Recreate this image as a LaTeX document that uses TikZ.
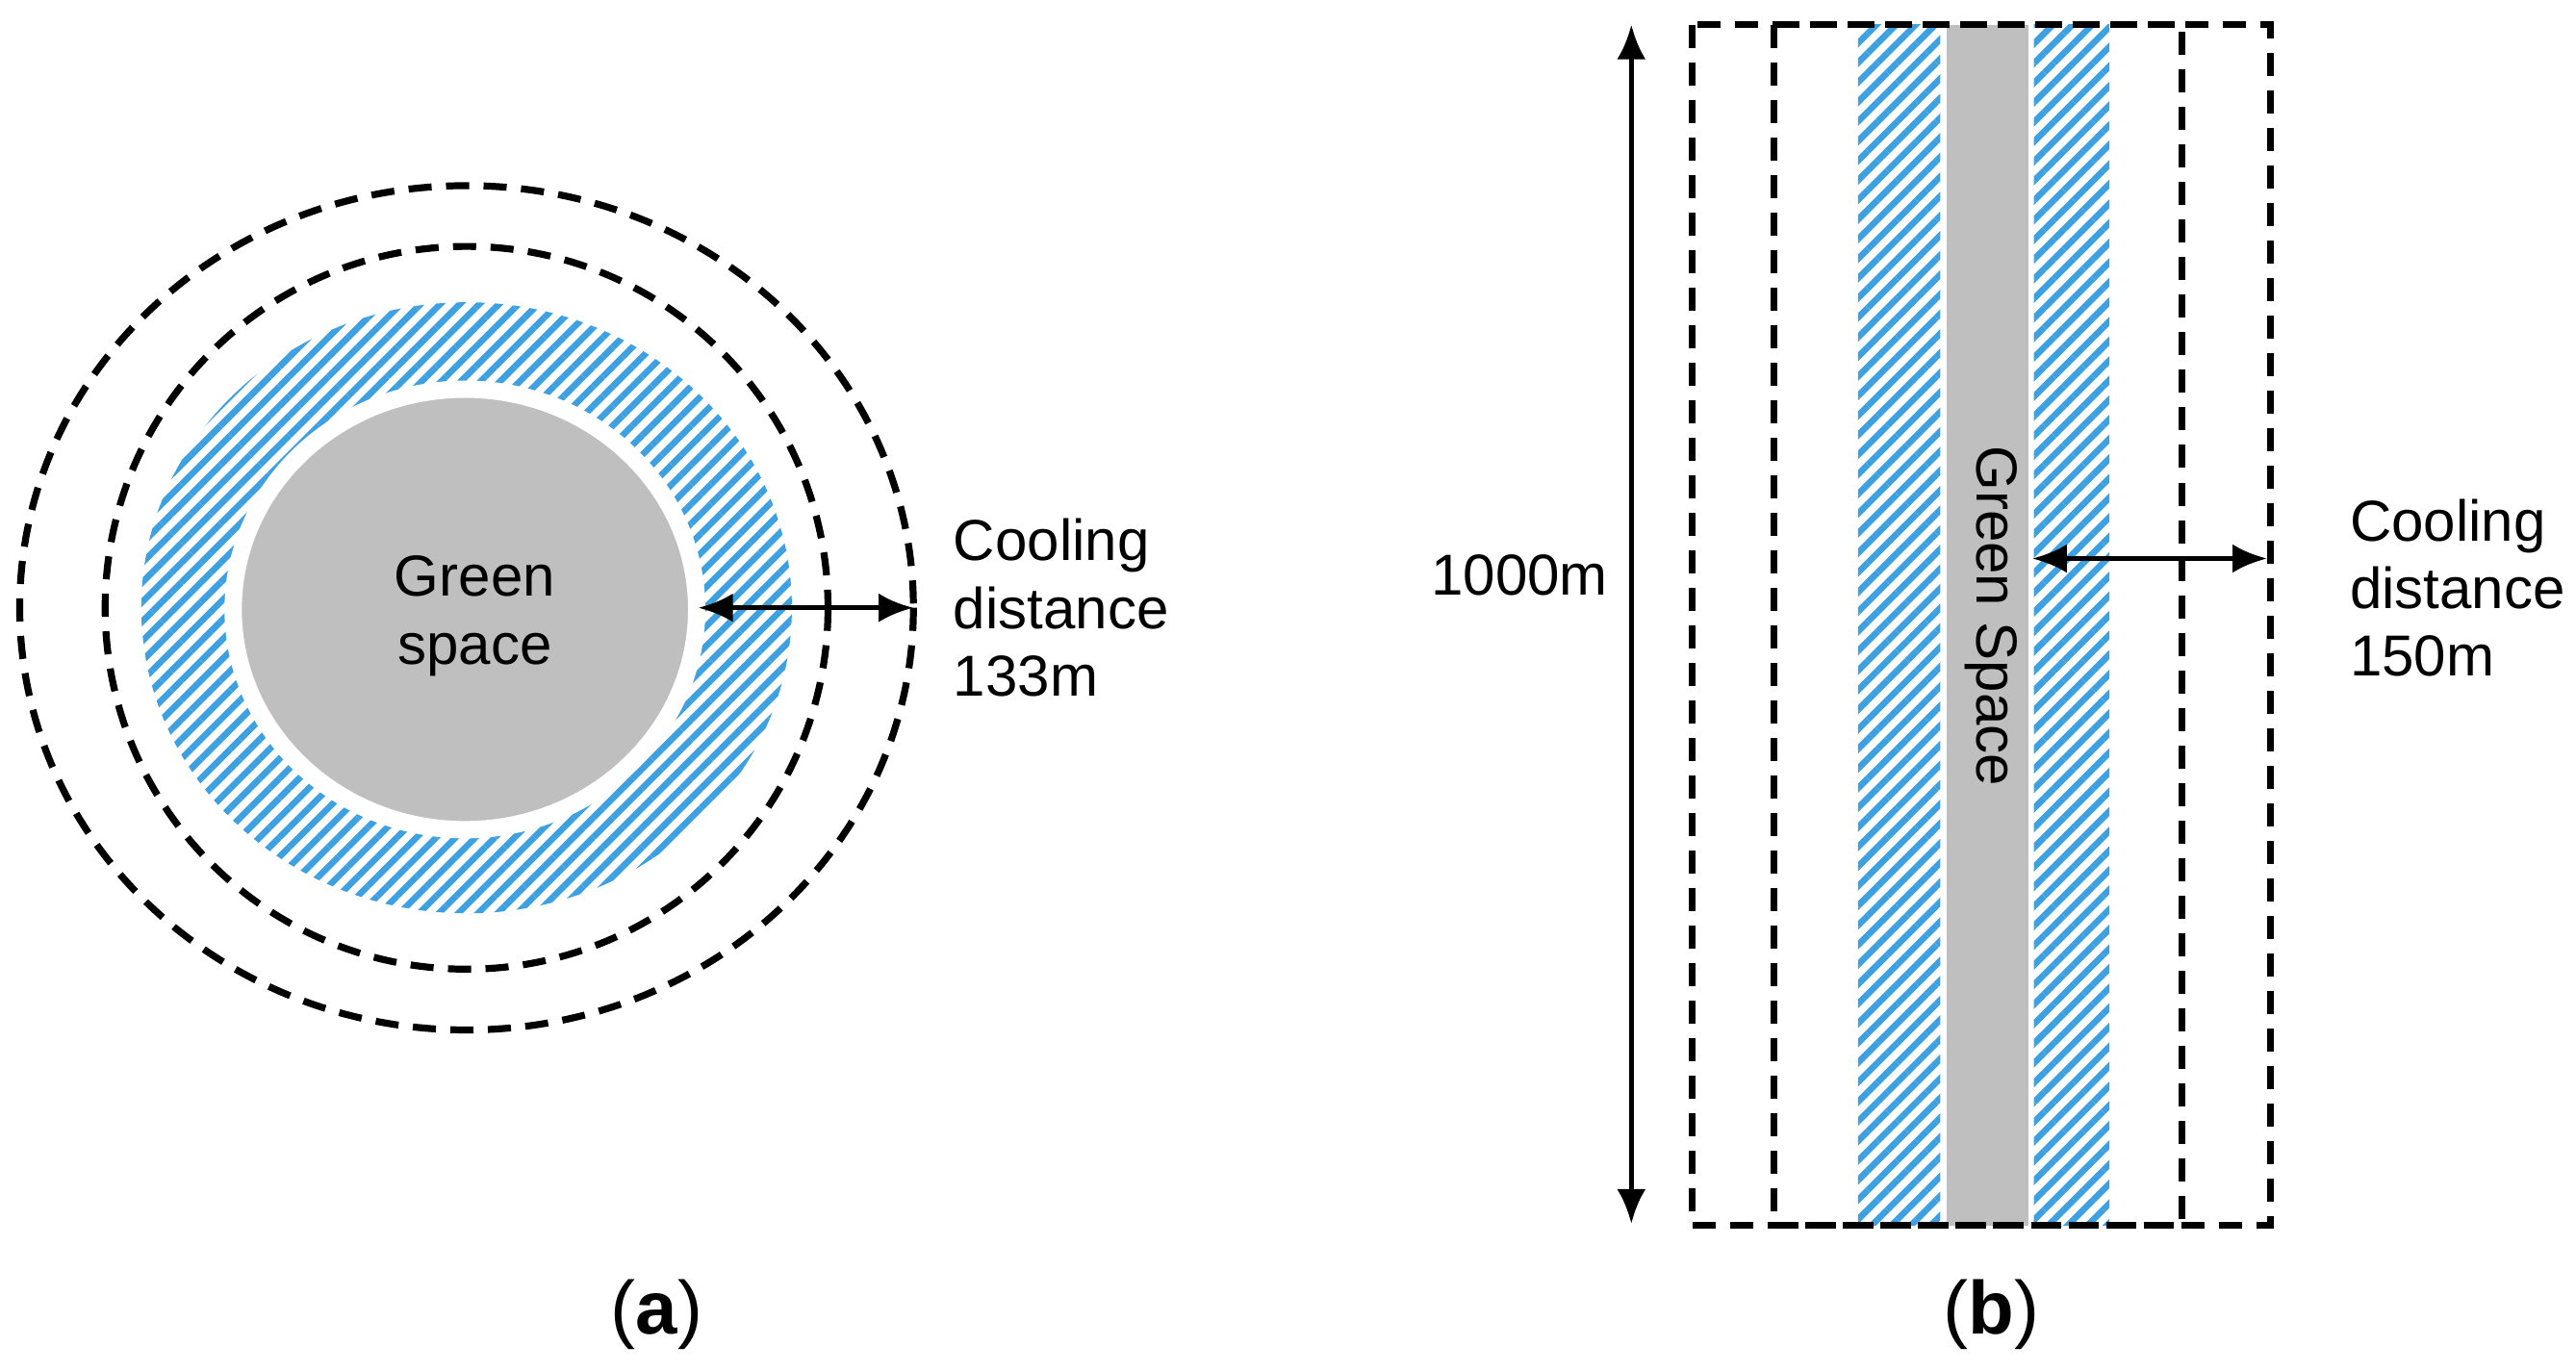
\documentclass[tikz,border=0pt]{standalone}
\usepackage{fontspec}
\setmainfont{Liberation Sans}
\usetikzlibrary{patterns.meta,arrows.meta,shapes.geometric}
\definecolor{hb}{RGB}{60,160,225}
\definecolor{gs}{RGB}{191,191,191}
\begin{document}
\begin{tikzpicture}[x=0.01cm,y=-0.01cm,
  dsh/.style={draw=black,line width=1.2pt,dash pattern=on 4pt off 2.5pt},
  hat/.style={pattern={Lines[angle=45,distance=2.4pt,line width=1.1pt]},pattern color=hb},
  arr/.style={{Latex[length=6pt,width=5pt]}-{Latex[length=6pt,width=5pt]},line width=0.9pt},
  lbl/.style={font=\fontsize{10}{11.7}\selectfont,align=left}]
\useasboundingbox (0,0) rectangle (1568,835);
% (a)
\path[hat] (284,370) ellipse [x radius=198,y radius=186];
\node[draw=white,line width=3pt,fill=gs,ellipse,minimum width=2.82cm,minimum height=2.68cm,inner sep=0] (gsA) at (283,371) {};
\draw[dsh] (284,370) ellipse [x radius=220,y radius=220];
\draw[dsh] (284,370) ellipse [x radius=272,y radius=257];
\node[lbl,align=center] (tA) at (289,375) {Green\\space};
\coordinate (a1) at (425,370);
\coordinate (a2) at (556,370);
\draw[arr] (a1) -- (a2);
\node[lbl,anchor=west] (cA) at (568,370) {Cooling\\distance\\133m};
\node[font=\fontsize{13}{15}\selectfont\rmfamily] (la) at (400,800) {(\textbf{a})};
% (b)
\path[hat] (1131,15) rectangle (1181,746);
\path[hat] (1238,15) rectangle (1284,746);
\fill[gs] (1185,15) rectangle (1235,746);
\draw[dsh] (1080,15) rectangle (1328,746);
\draw[dsh] (1030,15) rectangle (1382,746);
\node[lbl,rotate=-90] (tB) at (1212,375) {Green Space};
\coordinate (b1) at (1237,340);
\coordinate (b2) at (1380,340);
\draw[arr] (b1) -- (b2);
\node[lbl,anchor=west] (cB) at (1418,358) {Cooling\\distance\\150m};
\coordinate (v1) at (993,15);
\coordinate (v2) at (993,745);
\draw[arr] (v1) -- (v2);
\node[lbl] (m) at (925,350) {1000m};
\node[font=\fontsize{13}{15}\selectfont\rmfamily] (lb) at (1212,800) {(\textbf{b})};
\end{tikzpicture}
\end{document}
